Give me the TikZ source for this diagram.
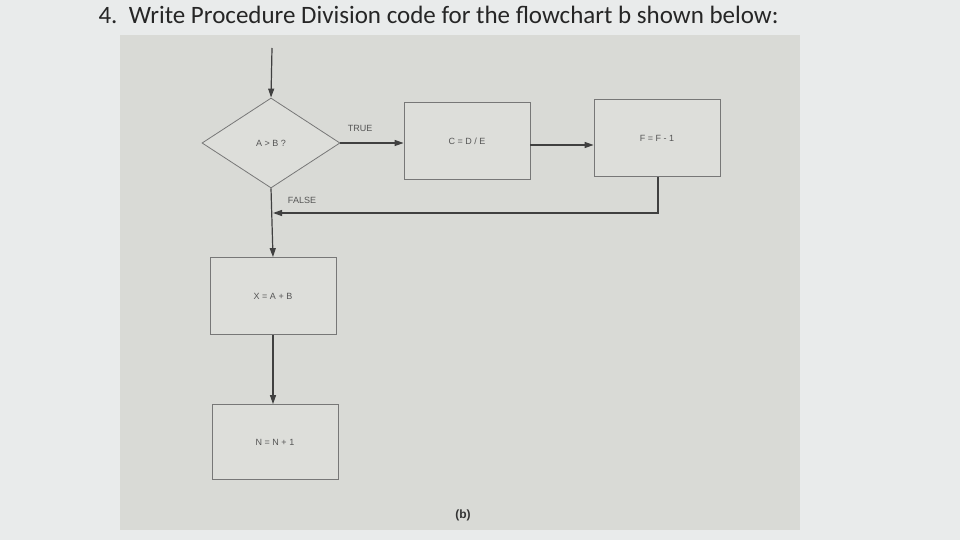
\documentclass[tikz,border=0pt]{standalone}
\usepackage{fontspec}
\setmainfont{Carlito}
\setsansfont{Liberation Sans}
\usetikzlibrary{shapes.geometric,arrows.meta}
\definecolor{pagebg}{HTML}{E9EBEB}
\definecolor{panel}{HTML}{D9DAD6}
\definecolor{boxfill}{HTML}{DDDEDA}
\definecolor{ink}{HTML}{555555}
\begin{document}
\begin{tikzpicture}[x=1pt,y=-1pt,
  blk/.style={draw=ink!80,line width=0.8pt,fill=boxfill,minimum width=126pt,minimum height=77pt,inner sep=0pt,font=\sffamily\fontsize{9}{9}\selectfont,text=ink},
  dec/.style={draw=ink!80,line width=0.8pt,fill=boxfill,diamond,aspect=1.53,minimum width=138pt,minimum height=90pt,inner sep=0pt,font=\sffamily\fontsize{9}{9}\selectfont,text=ink},
  flow/.style={draw=black!75,line width=1.2pt,-{Triangle[length=9pt,width=6pt]}},
  lbl/.style={font=\sffamily\fontsize{9}{9}\selectfont,text=ink}]
\useasboundingbox (0,0) rectangle (960,540);
\fill[pagebg] (0,0) rectangle (960,540);
\fill[panel] (120,35) rectangle (800,530);
\node[anchor=west,font=\fontsize{25}{25}\selectfont,text=black!85] (title) at (95,15) {4.\ \ Write Procedure Division code for the flowchart b shown below:};
\coordinate (start) at (272,48);
\node[dec] (d) at (271,143) {A > B ?};
\node[blk] (c) at (467,141) {C = D / E};
\node[blk] (f) at (657,138) {F = F - 1};
\node[blk] (x) at (273,296) {X = A + B};
\node[blk,minimum height=75pt] (n) at (275,442) {N = N + 1};
\coordinate (lp) at (658,213);
\coordinate (lj) at (273,213);
\draw[flow] (start) -- (d.north);
\draw[flow] (d.east) -- (c.west |- d.east);
\draw[flow] (c.east |- 0,145) -- (f.west |- 0,145);
\draw[flow] (f.south -| lp) -- (lp) -- (lj);
\draw[flow] (d.south) -- (x.north);
\draw[flow] (x.south) -- (n.north -| x.south);
\node[lbl] (t) at (360,128) {TRUE};
\node[lbl] (fa) at (302,200) {FALSE};
\node[font=\sffamily\bfseries\fontsize{12}{12}\selectfont,text=black!80] (b) at (463,515) {(b)};
\end{tikzpicture}
\end{document}
